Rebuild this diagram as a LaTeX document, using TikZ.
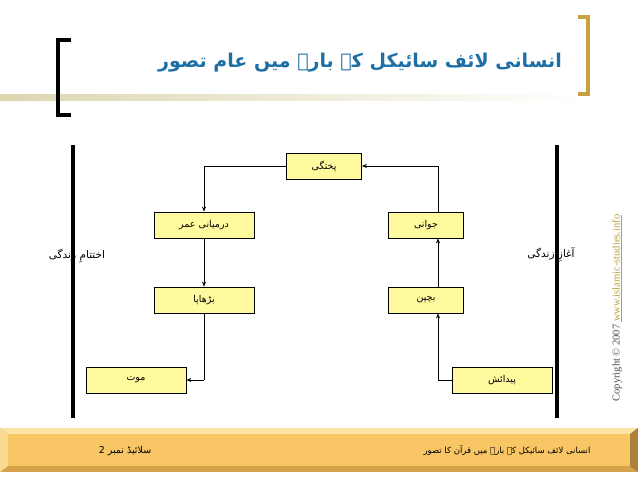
\documentclass[tikz,border=0pt]{standalone}
\usepackage{fontspec}
\setmainfont{Liberation Serif}
\newfontfamily\urdu[Script=Arabic]{DejaVu Sans}
\TeXXeTstate=1
\usetikzlibrary{arrows.meta}
\definecolor{boxfill}{HTML}{FFFA9E}
\definecolor{titleblue}{HTML}{1E6FA6}
\definecolor{goldbr}{HTML}{C9A13E}
\definecolor{barmain}{HTML}{F8C664}
\definecolor{barlight}{HTML}{FCE3A6}
\definecolor{bardark}{HTML}{D4A24A}
\definecolor{olive}{HTML}{B7A235}
\definecolor{band}{HTML}{DCD6B0}
\begin{document}
\begin{tikzpicture}[x=1pt,y=-1pt,
  stagebox/.style={draw=black,line width=0.8pt,fill=boxfill,minimum height=26pt,inner sep=1pt,font=\urdu\fontsize{9.5}{10}\selectfont},
  wide/.style={stagebox,minimum width=100pt},
  narrow/.style={stagebox,minimum width=75pt},
  flow/.style={draw=black,line width=0.7pt,-{Stealth[length=5pt,width=4pt]}},
  plain/.style={draw=black,line width=0.7pt},
  side/.style={font=\urdu\fontsize{10.5}{12}\selectfont,inner sep=0pt},
  thickbar/.style={line width=4pt,black}]
\useasboundingbox (0,0) rectangle (638,478);
\fill[white] (0,0) rectangle (638,478);
% title underline band
\shade[left color=band,right color=white] (0,95) rectangle (585,101);
% brackets
\draw[line width=4pt,black] (71,40) -- (58,40) -- (58,115) -- (71,115);
\draw[line width=4pt,goldbr] (578,17) -- (588,17) -- (588,94) -- (578,94);
% title
\node[font=\urdu\bfseries\fontsize{19}{23}\selectfont,text=titleblue,inner sep=0pt] (title) at (360,63) {\beginR انسانی لائف سائیکل کے بارے میں عام تصور\endR};
% side labels
\node[side] (endlife) at (77,256) {\beginR اختتامِ زندگی\endR};
\node[side] (startlife) at (551,255) {\beginR آغازِ زندگی\endR};
\coordinate (lt) at (73,145); \coordinate (lb) at (73,418);
\coordinate (rt) at (557,145); \coordinate (rb) at (557,418);
\draw[thickbar] (lt) -- (lb);
\draw[thickbar] (rt) -- (rb);
% boxes
\node[narrow] (pukh) at (324,166) {\beginR پختگی\endR};
\node[wide] (darm) at (204,225) {\beginR درمیانی عمر\endR};
\node[narrow] (jaw) at (426,225) {\beginR جوانی\endR};
\node[wide] (burh) at (204,300) {\beginR بڑھاپا\endR};
\node[narrow] (bach) at (426,300) {\beginR بچپن\endR};
\node[wide] (maut) at (136,380) {\beginR موت\endR};
\node[wide] (ped) at (502,380) {\beginR پیدائش\endR};
% connectors
\coordinate (rx1) at (438,380);
\coordinate (rx2) at (438,166);
\draw[plain] (ped.west) -- (rx1);
\draw[flow] (rx1) -- (rx1 |- bach.south);
\draw[flow] (rx1 |- bach.north) -- (rx1 |- jaw.south);
\draw[plain] (rx1 |- jaw.north) -- (rx2);
\draw[flow] (rx2) -- (pukh.east);
\coordinate (lx1) at (204,166);
\draw[plain] (pukh.west) -- (lx1);
\draw[flow] (lx1) -- (darm.north);
\draw[flow] (darm.south) -- (burh.north);
\coordinate (lx2) at (204,380);
\draw[plain] (burh.south) -- (lx2);
\draw[flow] (lx2) -- (maut.east);
% copyright
\node[rotate=90,font=\fontsize{10.5}{12}\selectfont,text=black!70,inner sep=0pt] (copy) at (617,308) {Copyright © 2007 \textcolor{olive}{\underline{www.islamic-studies.info}}};
% footer bar
\fill[bardark] (0,428) rectangle (638,472);
\fill[barlight] (0,428) -- (638,428) -- (630,434) -- (8,434) -- cycle;
\fill[barlight!70!barmain] (0,428) -- (8,434) -- (8,466) -- (0,472) -- cycle;
\fill[bardark!80!black] (638,428) -- (630,434) -- (630,466) -- (638,472) -- cycle;
\fill[barmain] (8,434) rectangle (630,466);
\node[font=\urdu\fontsize{8.5}{10}\selectfont,inner sep=0pt] (foot1) at (507,451) {\beginR انسانی لائف سائیکل کے بارے میں قرآن کا تصور\endR};
\node[font=\urdu\fontsize{9.5}{11}\selectfont,inner sep=0pt] (foot2) at (125,451) {\beginR سلائیڈ نمبر \beginL 2\endL\endR};
\end{tikzpicture}
\end{document}
